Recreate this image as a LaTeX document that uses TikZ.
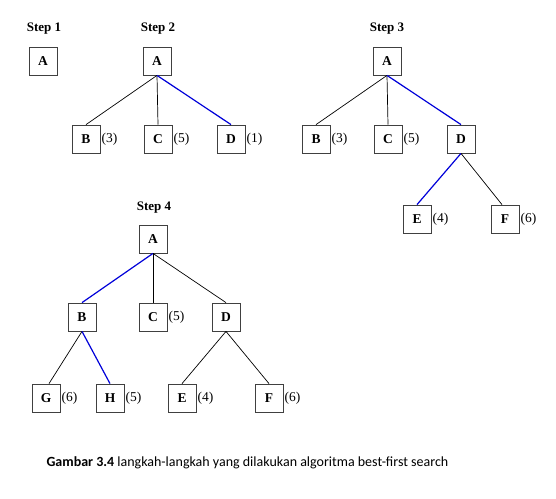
\documentclass[tikz,border=0pt]{standalone}
\usepackage{fontspec}
\setmainfont{Liberation Serif}
\newfontfamily\capfont{Carlito}
\usetikzlibrary{positioning}

\begin{document}
\begin{tikzpicture}[x=1pt, y=-1pt,
    box/.style={draw=black!75, line width=0.8pt, minimum size=28pt, inner sep=0pt, font=\fontsize{13.5}{15}\selectfont\bfseries},
    cost/.style={font=\fontsize{13.5}{15}\selectfont, inner sep=1pt},
    steplabel/.style={font=\fontsize{13}{15}\selectfont\bfseries},
    edge/.style={black, line width=0.7pt},
    best/.style={blue!85!black, line width=1.2pt}]
                \useasboundingbox (0,0) rectangle (556,498);
                % Step 1
                \node [steplabel] (s1) at (44, 29) {Step 1};
                \node [box] (a1) at (43, 61) {A};
                % Step 2
                \node [steplabel] (s2) at (158, 29) {Step 2};
                \node [box] (a2) at (157, 61) {A};
                \node [box, label={[cost]right:(3)}] (b2) at (86, 139) {B};
                \node [box, label={[cost]right:(5)}] (c2) at (158, 139) {C};
                \node [box, label={[cost]right:(1)}] (d2) at (231, 139) {D};
                \draw [edge] (a2.south) -- (b2.north);
                \draw [edge] (a2.south) -- (c2.north);
                \draw [best] (a2.south) -- (d2.north);
                % Step 3
                \node [steplabel] (s3) at (387, 29) {Step 3};
                \node [box] (a3) at (387, 61) {A};
                \node [box, label={[cost]right:(3)}] (b3) at (316, 139) {B};
                \node [box, label={[cost]right:(5)}] (c3) at (388, 139) {C};
                \node [box] (d3) at (461, 139) {D};
                \node [box, label={[cost]right:(4)}] (e3) at (417, 219) {E};
                \node [box, label={[cost]right:(6)}] (f3) at (505, 219) {F};
                \draw [edge] (a3.south) -- (b3.north);
                \draw [edge] (a3.south) -- (c3.north);
                \draw [best] (a3.south) -- (d3.north);
                \draw [best] (d3.south) -- (e3.north);
                \draw [edge] (d3.south) -- ([xshift=-3pt]f3.north);
                % Step 4
                \node [steplabel] (s4) at (154, 208) {Step 4};
                \node [box] (a4) at (153, 239) {A};
                \node [box] (b4) at (82, 317) {B};
                \node [box, label={[cost]right:(5)}] (c4) at (153, 317) {C};
                \node [box] (d4) at (226, 317) {D};
                \node [box, label={[cost]right:(6)}] (g4) at (46, 398) {G};
                \node [box, label={[cost]right:(5)}] (h4) at (110, 398) {H};
                \node [box, label={[cost]right:(4)}] (e4) at (182, 398) {E};
                \node [box, label={[cost]right:(6)}] (f4) at (269, 398) {F};
                \draw [best] (a4.south) -- (b4.north);
                \draw [edge] (a4.south) -- (c4.north);
                \draw [edge] (a4.south) -- (d4.north);
                \draw [edge] (b4.south) -- ([xshift=3pt]g4.north);
                \draw [best] (b4.south) -- (h4.north);
                \draw [edge] (d4.south) -- (e4.north);
                \draw [edge] (d4.south) -- (f4.north);
                % caption
                \node [anchor=west, font=\capfont\fontsize{14}{16}\selectfont] (cap) at (43, 463)
                    {\textbf{Gambar 3.4} langkah-langkah yang dilakukan algoritma best-first search};
            \end{tikzpicture}
\end{document}
